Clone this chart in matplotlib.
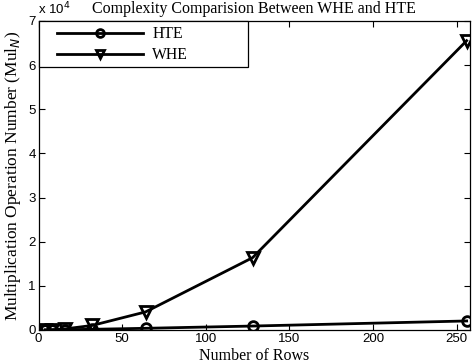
import matplotlib
matplotlib.use("Agg")
import matplotlib.pyplot as plt
from matplotlib.ticker import FuncFormatter
from matplotlib.patches import Rectangle

rows = [4, 8, 16, 32, 64, 128, 256]
hte = [8, 24, 64, 160, 384, 896, 2048]
whe = [16, 64, 256, 1024, 4096, 16384, 65536]
x_ticks = [0, 50, 100, 150, 200, 250]
y_ticks = [0, 10000, 20000, 30000, 40000, 50000, 60000, 70000]

serif = "Liberation Serif"
sans = "Liberation Sans"

W, H = 474, 363
L, R, B, T = 38.5, 470, 330, 21
fig = plt.figure(figsize=(W/100, H/100), dpi=100)
ax = fig.add_axes([L/W, (H-B)/H, (R-L)/W, (B-T)/H])

ax.plot(rows, hte, color="black", lw=2.0, marker="o", ms=7, mfc="none", mew=2.0, label="HTE", zorder=2)
ax.plot(rows, whe, color="black", lw=2.0, marker="v", ms=8, mfc="none", mew=2.0, label="WHE", zorder=2)

ax.set_xlim(0, 258)
ax.set_ylim(0, 70000)
ax.set_xticks(x_ticks)
ax.set_yticks(y_ticks)
ax.yaxis.set_major_formatter(FuncFormatter(lambda v, p: f"{v/1e4:g}"))
ax.tick_params(direction="in", top=True, right=True, length=4, width=0.8, labelsize=9.5, pad=2)
for lab in ax.get_xticklabels() + ax.get_yticklabels():
    lab.set_fontfamily(sans)
for s in ax.spines.values():
    s.set_linewidth(0.9)

ax.text(0.0, 1.012, "x 10$^{4}$", transform=ax.transAxes, fontfamily=sans, fontsize=9.5,
        ha="left", va="bottom")
ax.set_title("Complexity Comparision Between WHE and HTE", fontfamily=serif, fontsize=11.5, pad=6)
ax.set_xlabel("Number of Rows", fontfamily=serif, fontsize=11.5, labelpad=2)
ax.set_ylabel("Multiplication Operation Number (Mul$_N$)", fontfamily=serif, fontsize=12.5, labelpad=4)

# legend frame (MATLAB style, wider than content)
pw, ph = R - L, B - T
ax.add_patch(Rectangle((0, 1 - 46/ph), 209/pw, 46/ph, transform=ax.transAxes,
                       facecolor="white", edgecolor="black", lw=0.9, zorder=4, clip_on=False))
leg = ax.legend(loc="upper left", bbox_to_anchor=(18/pw, 1 - 5/ph), prop={"family": serif, "size": 11.3},
                handlelength=5.5, borderaxespad=0, frameon=False, borderpad=0,
                labelspacing=0.35, handletextpad=0.6, markerscale=0.8)
leg.set_zorder(5)

fig.savefig("out.png", dpi=100)
